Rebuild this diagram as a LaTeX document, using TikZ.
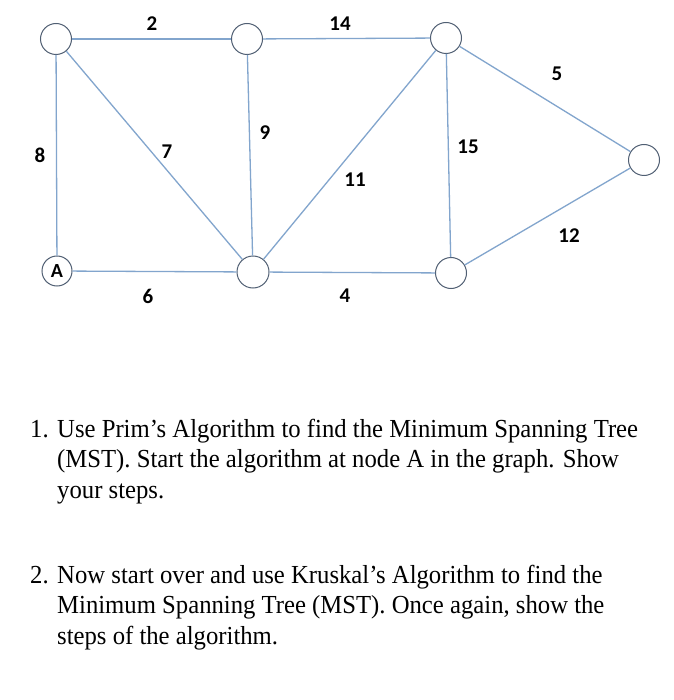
\documentclass[tikz,border=0pt]{standalone}
\usepackage{fontspec}
\setmainfont{Liberation Serif}
\newfontfamily\lblfont{Carlito}
\definecolor{edgecol}{RGB}{130,165,205}
\definecolor{nodecol}{RGB}{80,95,115}
\newcommand{\qline}[1]{\scalebox{0.95}[1]{#1}}
\begin{document}
\begin{tikzpicture}[x=1pt,y=-1pt,
  vert/.style={circle,draw=nodecol,line width=1pt,fill=white,minimum size=31pt,inner sep=0pt},
  edge/.style={draw=edgecol,line width=1.3pt},
  wlabel/.style={font=\lblfont\bfseries\fontsize{21}{24}\selectfont,inner sep=0pt},
  qtext/.style={font=\fontsize{26}{30}\selectfont,inner sep=0pt,anchor=base west}]
\useasboundingbox[fill=white] (0,0) rectangle (673,700);
\node[vert] (tl) at (56,39) {};
\node[vert] (tm) at (247,39) {};
\node[vert] (tr) at (446,38) {};
\node[vert] (r) at (644,160) {};
\node[vert,minimum size=30pt,font=\lblfont\bfseries\fontsize{20}{22}\selectfont] (a) at (57,271) {A};
\node[vert,minimum size=32pt] (bm) at (253,272) {};
\node[vert] (br) at (451,273) {};
\draw[edge] (tl) -- (tm);
\draw[edge] (tm) -- (tr);
\draw[edge] (tl) -- (a);
\draw[edge] (tl) -- (bm);
\draw[edge] (tm) -- (bm);
\draw[edge] (tr) -- (bm);
\draw[edge] (a) -- (bm);
\draw[edge] (bm) -- (br);
\draw[edge] (tr) -- (br);
\draw[edge] (tr) -- (r);
\draw[edge] (r) -- (br);
\node[wlabel] (l2) at (152,24) {2};
\node[wlabel] (l14) at (340,24) {14};
\node[wlabel] (l8) at (40,155) {8};
\node[wlabel] (l7) at (167,152) {7};
\node[wlabel] (l9) at (265,133) {9};
\node[wlabel] (l11) at (355,180) {11};
\node[wlabel] (l15) at (468,147) {15};
\node[wlabel] (l5) at (557,74) {5};
\node[wlabel] (l12) at (569,236) {12};
\node[wlabel] (l6) at (148,296) {6};
\node[wlabel] (l4) at (345,296) {4};
\node[qtext] (n1) at (30,437) {\qline{1.}};
\node[qtext] (q1a) at (57,437) {\qline{Use Prim’s Algorithm to find the Minimum Spanning Tree}};
\node[qtext] (q1b) at (57,467.5) {\qline{(MST). Start the algorithm at node A in the graph. Show}};
\node[qtext] (q1c) at (57,498) {\qline{your steps.}};
\node[qtext] (n2) at (30,583) {\qline{2.}};
\node[qtext] (q2a) at (57,583) {\qline{Now start over and use Kruskal’s Algorithm to find the}};
\node[qtext] (q2b) at (57,613.5) {\qline{Minimum Spanning Tree (MST). Once again, show the}};
\node[qtext] (q2c) at (57,644) {\qline{steps of the algorithm.}};
\end{tikzpicture}
\end{document}
